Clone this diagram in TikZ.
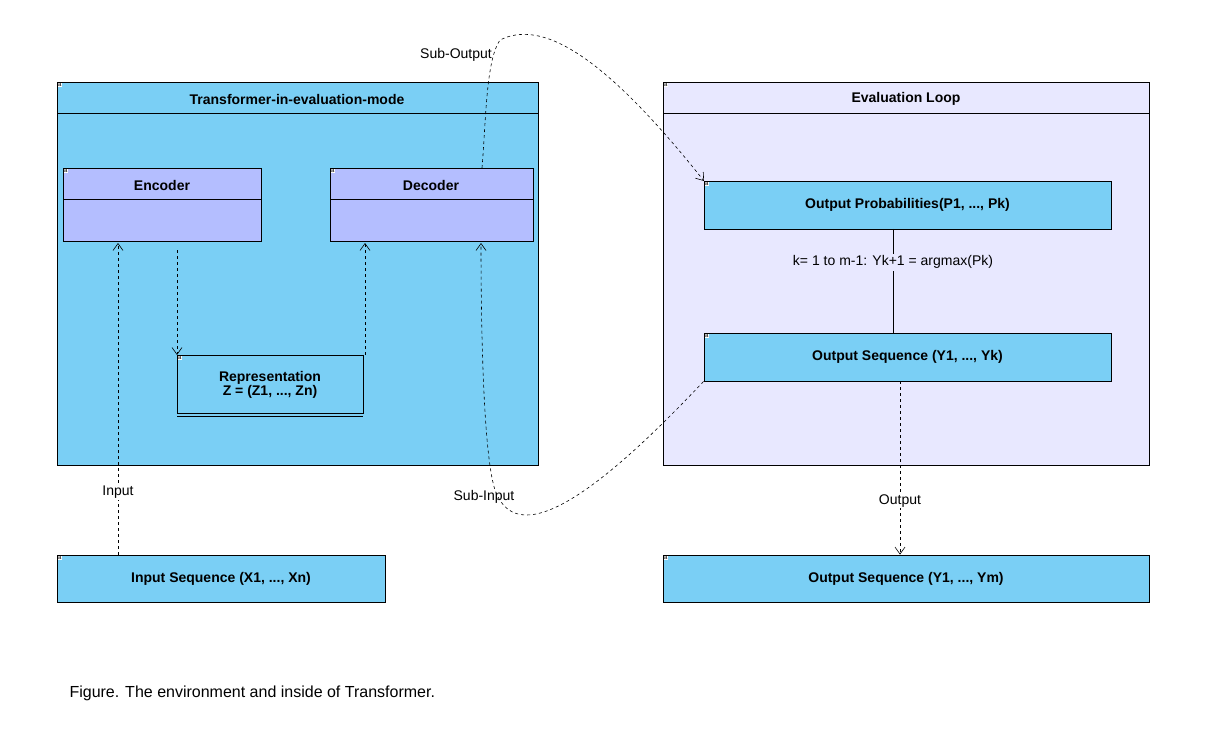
\documentclass[tikz,border=0pt]{standalone}
\usepackage{fontspec}
\setmainfont{Liberation Sans}
\usetikzlibrary{arrows.meta}
\definecolor{cblue}{HTML}{7ACFF5}
\definecolor{cpurp}{HTML}{B4BEFF}
\definecolor{clav}{HTML}{E8E8FF}
\begin{document}
\begin{tikzpicture}[x=1pt,y=-1pt,
  box/.style={draw=black,line width=0.8pt},
  ttl/.style={font=\fontsize{14}{16}\selectfont\bfseries},
  lbl/.style={font=\fontsize{14}{16}\selectfont},
  amark/.style={font=\fontsize{6}{6}\selectfont,fill=white,inner sep=0.3pt,anchor=north west},
  dep/.style={draw=black,dashed,line width=0.6pt,-{Straight Barb[length=7pt,width=10pt,line width=0.6pt]}}]
\useasboundingbox (0,0) rectangle (1218,730);
% Transformer
\draw[box,fill=cblue] (57,82) rectangle (538,465);
\draw[box] (57,113) -- (538,113);
\node[ttl] (tT) at (297,99) {Transformer-in-evaluation-mode};
\node[amark] at (57.5,82.5) {a};
% Encoder
\draw[box,fill=cpurp] (63,168) rectangle (261,241);
\draw[box] (63,199) -- (261,199);
\node[ttl] at (162,185) {Encoder};
\node[amark] at (63.5,168.5) {a};
\coordinate (encB) at (118,243);
\coordinate (encB2) at (177,243);
% Decoder
\draw[box,fill=cpurp] (330,168) rectangle (533,241);
\draw[box] (330,199) -- (533,199);
\node[ttl] at (431,185) {Decoder};
\node[amark] at (330.5,168.5) {a};
% Representation
\draw[box] (177,355) rectangle (363,413);
\draw[line width=0.8pt] (177,416) -- (363,416);
\node[ttl,align=center] (rep) at (270,385) {Representation\\[-2pt]Z = (Z1, ..., Zn)};
\node[amark] at (177.5,355.5) {a};
% Evaluation loop
\draw[box,fill=clav] (663,82) rectangle (1149,465);
\draw[box] (663,113) -- (1149,113);
\node[ttl] at (906,99) {Evaluation Loop};
\node[amark] at (663.5,82.5) {a};
% Output prob
\node[box,fill=cblue,minimum width=407pt,minimum height=48pt,ttl,inner sep=0pt] (op) at (907.5,205) {Output Probabilities(P1, ..., Pk)};
\node[amark] at (704.5,181.5) {a};
\node[box,fill=cblue,minimum width=407pt,minimum height=48pt,ttl,inner sep=0pt] (osk) at (907.5,357) {Output Sequence (Y1, ..., Yk)};
\node[amark] at (704.5,333.5) {a};
\draw[line width=0.6pt] (893,229) -- node[lbl,fill=clav,pos=0.32,inner sep=2pt] {k= 1 to m-1: Yk+1 = argmax(Pk)} (893,333);
% Input / Output seq
\node[box,fill=cblue,minimum width=328pt,minimum height=47pt,ttl,inner sep=0pt] (is) at (221,578.5) {Input Sequence (X1, ..., Xn)};
\node[amark] at (57.5,555.5) {a};
\node[box,fill=cblue,minimum width=486pt,minimum height=47pt,ttl,inner sep=0pt] (osm) at (906,578.5) {Output Sequence (Y1, ..., Ym)};
\node[amark] at (663.5,555.5) {a};
% connectors
\draw[dep] (is.north -| encB) -- node[lbl,fill=white,pos=0.2,inner sep=1pt] {Input} (encB);
\draw[dep] (177,250) -- (177,355);
\draw[dep] (365,355) -- (365,243);
\draw[dep] (osk.south west) .. controls (620,470) and (520,560) .. (495,490) .. controls (482,450) and (481,300) .. (481,243);
\node[lbl] at (484,497) {Sub-Input};
\draw[dep] (482,168) .. controls (486,120) and (486,60) .. (500,40) .. controls (540,20) and (600,50) .. (704,181);
\node[lbl,fill=none] at (456,55) {Sub-Output};
\draw[dep] (900,381) -- node[lbl,fill=white,pos=0.69,inner sep=1pt] {Output} (osm.north -| 900,0);
% caption
\node[anchor=west,font=\fontsize{16}{18}\selectfont] at (66,693) {Figure. The environment and inside of Transformer.};
\end{tikzpicture}
\end{document}
